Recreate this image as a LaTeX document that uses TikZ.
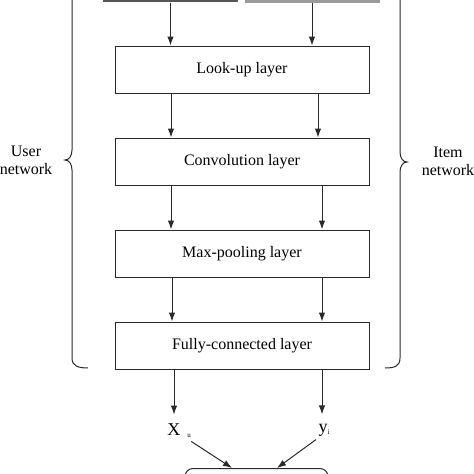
\documentclass[tikz,border=0pt]{standalone}
\usepackage{fontspec}
\setmainfont{Liberation Serif}
\usetikzlibrary{positioning,arrows.meta}
\definecolor{linegray}{HTML}{2A2A2A}
\definecolor{uservecgray}{HTML}{555555}
\definecolor{itemvecgray}{HTML}{9A9A9A}
\begin{document}
\begin{tikzpicture}[x=1pt, y=1pt, node distance={44pt}, line width=1pt, color=linegray,
        layer/.style = {draw, text=black, minimum width=254pt, minimum height=47pt, inner sep=0pt, font=\fontsize{16}{19}\selectfont},
        vec/.style = {minimum width=135pt, minimum height=20pt, inner sep=0pt, anchor=south},
        arr/.style = {-{Latex[length=9pt,width=6.5pt]}},
        lbl/.style = {text=black, align=center, inner sep=0pt, font=\fontsize{16}{18}\selectfont},
        var/.style = {text=black, inner sep=0pt, font=\fontsize{18}{20}\selectfont}]
        \useasboundingbox (0,0) rectangle (474,-474);

        \node[vec, fill=uservecgray] (uservec) at (170.5,-2.5) {};
        \node[vec, fill=itemvecgray] (itemvec) at (312,-3) {};

        \node[layer] (lookup) at (242,-69.5) {Look-up layer};
        \node[layer] (conv) [below=of lookup] {Convolution layer};
        \node[layer] (pool) [below=of conv] {Max-pooling layer};
        \node[layer] (fc) [below=of pool] {Fully-connected layer};

        \node[var] (xu) at (179,-431) {X\hspace{7pt}\raisebox{-2pt}{\fontsize{7}{8}\selectfont u}};
        \node[var] (yi) at (324,-430) {y\raisebox{-2pt}{\fontsize{7}{8}\selectfont i}};
        \node[draw, rounded corners=8pt, minimum width=143pt, minimum height=30pt, anchor=north] (pred) at (256.5,-468) {};

        \node[lbl] (userlbl) at (26,-160) {User\\network};
        \node[lbl] (itemlbl) at (448,-161) {Item\\network};

        \draw[arr] (uservec.south) -- (uservec.south |- lookup.north);
        \draw[arr] (itemvec.south) -- (itemvec.south |- lookup.north);

        \draw[arr] ([xshift=-71pt]lookup.south) -- ([xshift=-71pt]conv.north);
        \draw[arr] ([xshift=76pt]lookup.south) -- ([xshift=76pt]conv.north);

        \draw[arr] ([xshift=-71pt]conv.south) -- ([xshift=-71pt]pool.north);
        \draw[arr] ([xshift=80pt]conv.south) -- ([xshift=80pt]pool.north);

        \draw[arr] ([xshift=-70pt]pool.south) -- ([xshift=-70pt]fc.north);
        \draw[arr] ([xshift=80pt]pool.south) -- ([xshift=80pt]fc.north);

        \draw[arr] ([xshift=-68pt]fc.south) -- ([xshift=-68pt, yshift=9pt]fc.south |- xu.north);
        \draw[arr] ([xshift=80pt]fc.south) -- ([xshift=80pt, yshift=9pt]fc.south |- yi.north);

        \draw[arr] ([yshift=-3pt]xu.south east) -- ([xshift=-24.5pt]pred.north);
        \draw[arr] ([xshift=-8pt, yshift=-3pt]yi.south) -- ([xshift=20.5pt]pred.north);

        \draw (88,-368) .. controls (78,-368) and (72,-366) .. (72,-358) -- (72,-170)
            .. controls (72,-164) and (69,-160) .. (65,-160)
            .. controls (69,-160) and (72,-156) .. (72,-150) -- (72,5);
        \draw (385,-368) .. controls (395,-368) and (400,-366) .. (400,-358) -- (400,-172)
            .. controls (400,-166) and (403,-162) .. (407,-162)
            .. controls (403,-162) and (400,-158) .. (400,-152) -- (400,5);
    \end{tikzpicture}
\end{document}
